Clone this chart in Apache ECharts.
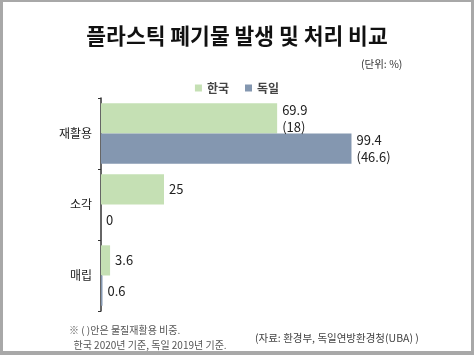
<!DOCTYPE html>
<html><head><meta charset="utf-8">
<script src="https://cdn.jsdelivr.net/npm/echarts@6/dist/echarts.min.js"></script>
<style>
html,body{margin:0;padding:0;background:#fff;}
#wrap{position:relative;width:474px;height:355px;}
#chart{width:474px;height:355px;}
#frame{position:absolute;left:0;top:0;width:474px;height:355px;box-sizing:border-box;border-style:solid;border-color:#a8a8a8;border-width:2px 3px 4px 3px;pointer-events:none;}
</style></head>
<body><div id="wrap"><div id="chart"></div><div id="frame"></div></div>
<script>
const categories = ['재활용', '소각', '매립'];
const seriesNames = ['한국', '독일'];
const koreaValues = [69.9, 25, 3.6];
const germanyValues = [99.4, 0, 0.6];
const koreaMaterialShare = [18, null, null];
const germanyMaterialShare = [46.6, null, null];

const fontFam = '"Noto Sans CJK KR", "Noto Sans", sans-serif';
function labelFmt(shares) {
  return function (p) {
    const s = shares[p.dataIndex];
    return s == null ? String(p.value) : p.value + '\n(' + s + ')';
  };
}
const chart = echarts.init(document.getElementById('chart'));
chart.setOption({
  animation: false,
  backgroundColor: '#fff',
  textStyle: { fontFamily: fontFam },
  title: [
    { text: '플라스틱 폐기물 발생 및 처리 비교', left: 'center', top: 20,
      textStyle: { fontSize: 21.5, fontWeight: 'bold', color: '#111', fontFamily: fontFam } },
    { text: '(단위: %)', left: 356, top: 54,
      textStyle: { fontSize: 10.5, fontWeight: 'normal', color: '#333', fontFamily: fontFam } },
    { text: '※ ( )안은 물질재활용 비중.\n  한국 2020년 기준, 독일 2019년 기준.', left: 64, top: 318,
      textStyle: { fontSize: 10, fontWeight: 'normal', color: '#555', lineHeight: 15, fontFamily: fontFam } },
    { text: '(자료: 환경부, 독일연방환경청(UBA) )', left: 250, top: 328,
      textStyle: { fontSize: 10.5, fontWeight: 'normal', color: '#444', fontFamily: fontFam } }
  ],
  legend: {
    data: seriesNames, left: 'center', top: 77, icon: 'rect',
    itemWidth: 7, itemHeight: 7, itemGap: 16,
    textStyle: { fontSize: 12, fontWeight: 'bold', color: '#444', fontFamily: fontFam }
  },
  grid: { left: 101, top: 98, height: 213, width: 252, containLabel: false },
  xAxis: { type: 'value', min: 0, max: 100, show: false },
  yAxis: {
    type: 'category', data: categories, inverse: true,
    axisLine: { lineStyle: { color: '#333', width: 1.5 } },
    axisTick: { show: true, length: 3, inside: false, lineStyle: { color: '#333' } },
    axisLabel: { fontSize: 12, color: '#222', margin: 9, fontFamily: fontFam }
  },
  series: [
    { name: seriesNames[0], type: 'bar', data: koreaValues, barGap: '0%', barCategoryGap: '15%',
      itemStyle: { color: '#c5e0b4' },
      label: { show: true, position: 'right', distance: 5, fontSize: 13, lineHeight: 17, color: '#222',
        formatter: labelFmt(koreaMaterialShare), fontFamily: fontFam } },
    { name: seriesNames[1], type: 'bar', data: germanyValues, barGap: '0%', barCategoryGap: '15%',
      itemStyle: { color: '#8497b0' },
      label: { show: true, position: 'right', distance: 5, fontSize: 13, lineHeight: 17, color: '#222',
        formatter: labelFmt(germanyMaterialShare), fontFamily: fontFam } }
  ]
});
</script></body></html>
